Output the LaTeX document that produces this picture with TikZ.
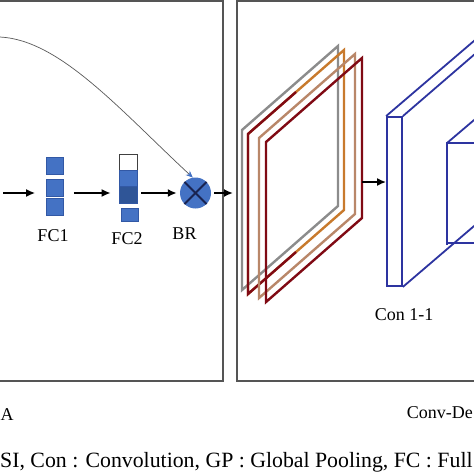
\documentclass[tikz,border=0pt]{standalone}
\usepackage{fontspec}
\setmainfont{Liberation Serif}
\usetikzlibrary{arrows.meta,calc}
\definecolor{fcblue}{RGB}{68,114,196}
\definecolor{fcdark}{RGB}{47,85,151}
\definecolor{fcedge}{RGB}{50,88,165}
\definecolor{crossnavy}{RGB}{25,35,80}
\definecolor{slabblue}{RGB}{45,52,160}
\definecolor{layergray}{RGB}{140,140,140}
\definecolor{layermaroon}{RGB}{128,10,20}
\definecolor{layerorange}{RGB}{200,122,45}
\definecolor{layertan}{RGB}{185,135,105}
\definecolor{panelgray}{RGB}{85,85,85}

\begin{document}
\begin{tikzpicture}[x=1pt,y=-1pt,
    panel/.style={draw=panelgray,line width=1.3pt},
    fcsq/.style={draw=fcedge,fill=fcblue,line width=0.6pt,minimum width=17pt,minimum height=17pt,inner sep=0pt},
    flow/.style={line width=2.3pt,-{Latex[length=9pt,width=8pt]}},
    lbl/.style={font=\fontsize{18}{20}\selectfont,inner sep=0pt,anchor=base},
    layer/.style={line width=2.4pt,line join=miter},
    slab/.style={draw=slabblue,line width=1.8pt}]
    \clip (0,0) rectangle (474,474);
    \fill[white] (0,0) rectangle (474,474);

    % panels
    \draw[panel] (-5,1) rectangle (223,381);
    \draw[panel] (237,1) rectangle (480,381);

    % FC1
    \node[fcsq] (fc1a) at (55,166) {};
    \node[fcsq] (fc1b) at (55,187.5) {};
    \node[fcsq] (fc1c) at (55,207) {};

    % FC2
    \node[fcsq,fill=white,draw=darkgray,minimum width=18pt,minimum height=16pt] (fc2w) at (128,162) {};
    \node[fcsq,minimum width=18pt,minimum height=16pt] (fc2m) at (128,178) {};
    \node[fcsq,fill=fcdark,minimum width=18pt] (fc2d) at (128,194.5) {};
    \node[fcsq,minimum width=17pt,minimum height=13pt] (fc2s) at (129.5,214.5) {};

    % BR
    \node[circle,fill=fcblue,minimum size=31pt,inner sep=0pt] (br) at (195.5,193) {};
    \draw[crossnavy,line width=2pt] (br.north west) -- (br.south east);
    \draw[crossnavy,line width=2pt] (br.north east) -- (br.south west);

    \node[lbl] (fc1l) at (53,241) {FC1};
    \node[lbl] (fc2l) at (127,244) {FC2};
    \node[lbl] (brl) at (184.5,239) {BR};

    \coordinate (inflow) at (3,193);
    \coordinate (convin) at (233,193);
    \draw[flow,shorten >=11pt] (inflow) -- (fc1b.west |- br);
    \draw[flow,shorten <=10pt,shorten >=8pt] (fc1b.east |- br) -- (fc2d.west |- br);
    \draw[flow,shorten <=4pt,shorten >=3pt] (fc2d.east |- br) -- (br.west);
    \draw[flow,shorten <=3pt] (br.east) -- (convin);

    % skip path into BR
    \coordinate (skip) at (0,37);
    \draw[gray!70!black,line width=0.7pt,-{Stealth[length=7pt,width=6pt,color=fcblue]}] (skip) .. controls (60,40) and (120,110) .. (br.100);

    % feature maps
    \draw[layer,layergray] (242,130) -- ++(96,-84) -- ++(0,160) -- ++(-96,84) -- cycle;
    \draw[layer,layerorange] (248,134) -- ++(96,-84) -- ++(0,160) -- ++(-96,84) -- cycle;
    \draw[layer,layermaroon] (296,92) -- (248,134) -- (248,294) -- (296,252);
    \draw[layer,layertan] (259,138) -- ++(96,-84) -- ++(0,160) -- ++(-96,84) -- cycle;
    \draw[layer,layermaroon] (266,142) -- ++(96,-84) -- ++(0,160) -- ++(-96,84) -- cycle;

    % Con 1-1
    \coordinate (layerout) at (362,182);
    \node[slab,minimum width=15pt,minimum height=169pt,inner sep=0pt] (con) at (394.5,201.5) {};
    \draw[flow] (layerout) -- (layerout -| con.west);
    \draw[slab] (con.north west) -- ++(90,-77);
    \draw[slab] (con.north east) -- ++(80,-69);
    \draw[slab] (con.south east) -- ++(90,-77);
    \draw[slab] (447,245) -- (447,143) -- (480,143);
    \draw[slab] (447,143) -- ++(40,-34);
    \draw[slab] (447,243) -- (480,243);
    \node[lbl] (conl) at (404,320) {Con 1-1};

    % captions
    \node[lbl,anchor=base west] at (0.5,420) {A};
    \node[lbl,anchor=base east] at (473,418) {Conv-De};
    \node[font=\fontsize{21.8}{24}\selectfont,inner sep=0pt,anchor=base west] at (0,467) {SI, Con : Convolution, GP : Global Pooling, FC : Full};
\end{tikzpicture}
\end{document}
